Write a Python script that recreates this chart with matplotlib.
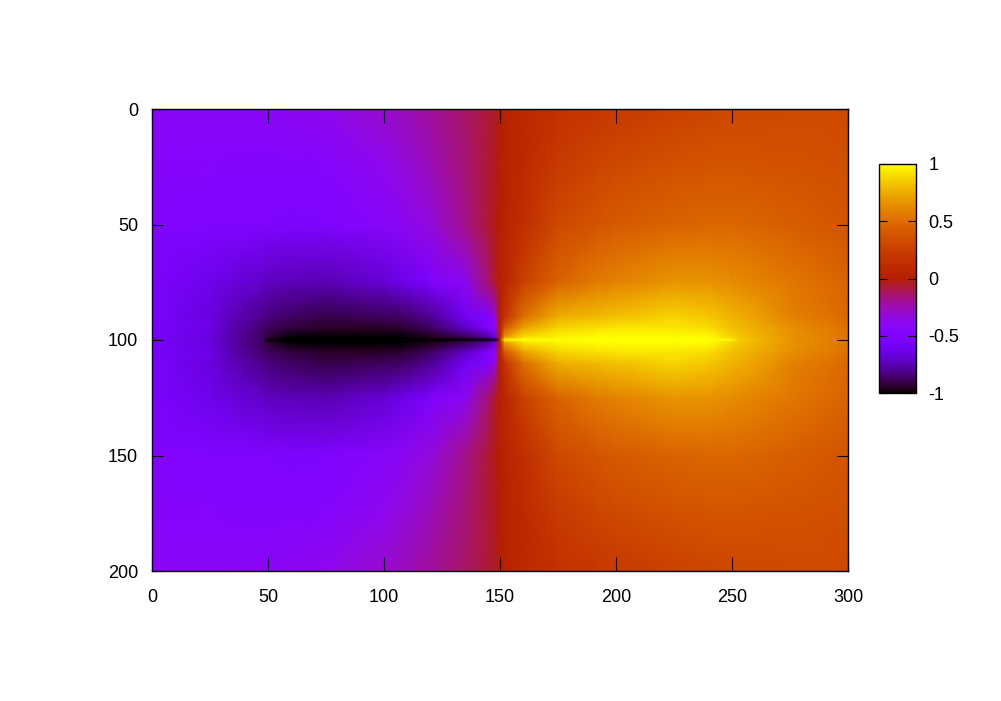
import numpy as np
import matplotlib
matplotlib.use("Agg")
from matplotlib import pyplot as plt

plt.rcParams['font.family'] = ['Liberation Sans', 'DejaVu Sans']

x_nodes = [0, 25, 48, 50, 60, 75, 100, 107, 120, 135, 145, 148, 150,
           152, 160, 175, 192, 200, 225, 240, 250, 253, 275, 300]
y_nodes = [0, 25, 50, 75, 90, 95, 99, 100, 101, 105, 110, 125, 150, 175, 200]

# one row per y node
row_000 = [-0.42, -0.42, -0.41, -0.41, -0.40, -0.38, -0.30, -0.27, -0.21, -0.13, -0.07, -0.05, 0.00,
           0.04, 0.08, 0.15, 0.20, 0.22, 0.27, 0.29, 0.30, 0.30, 0.32, 0.32]
row_025 = [-0.45, -0.46, -0.47, -0.47, -0.47, -0.46, -0.38, -0.34, -0.26, -0.15, -0.07, -0.04, 0.00,
           0.04, 0.10, 0.22, 0.29, 0.32, 0.36, 0.38, 0.38, 0.38, 0.37, 0.35]
row_050 = [-0.47, -0.50, -0.50, -0.50, -0.51, -0.50, -0.44, -0.41, -0.33, -0.18, -0.07, -0.03, 0.00,
           0.04, 0.13, 0.31, 0.38, 0.41, 0.46, 0.47, 0.47, 0.47, 0.43, 0.39]
row_075 = [-0.52, -0.62, -0.71, -0.72, -0.74, -0.75, -0.68, -0.64, -0.52, -0.40, -0.15, -0.05, 0.00,
           0.06, 0.25, 0.46, 0.57, 0.60, 0.67, 0.66, 0.64, 0.63, 0.55, 0.46]
row_090 = [-0.52, -0.66, -0.82, -0.84, -0.87, -0.90, -0.88, -0.87, -0.80, -0.60, -0.50, -0.35, 0.00,
           0.15, 0.50, 0.75, 0.80, 0.82, 0.88, 0.84, 0.78, 0.76, 0.60, 0.48]
row_095 = [-0.55, -0.64, -0.86, -0.88, -0.92, -0.95, -0.95, -0.94, -0.88, -0.72, -0.50, -0.40, 0.00,
           0.40, 0.72, 0.88, 0.92, 0.93, 0.93, 0.90, 0.82, 0.80, 0.65, 0.53]
row_099 = [-0.56, -0.66, -0.88, -0.93, -1.00, -1.00, -1.00, -1.00, -0.97, -0.90, -0.80, -0.60, 0.00,
           0.70, 0.92, 0.97, 1.00, 1.00, 1.00, 1.00, 0.88, 0.84, 0.66, 0.54]
row_100 = [-0.56, -0.66, -0.88, -1.00, -1.00, -1.00, -1.00, -1.00, -1.00, -1.00, -1.00, -1.00, 0.00,
           1.00, 1.00, 1.00, 1.00, 1.00, 1.00, 1.00, 1.00, 0.85, 0.66, 0.54]
row_101 = [-0.56, -0.66, -0.88, -0.93, -1.00, -1.00, -1.00, -1.00, -0.97, -0.90, -0.80, -0.60, 0.00,
           0.70, 0.92, 0.97, 1.00, 1.00, 1.00, 1.00, 0.88, 0.84, 0.66, 0.54]
row_105 = [-0.55, -0.64, -0.86, -0.88, -0.92, -0.95, -0.95, -0.94, -0.88, -0.72, -0.50, -0.40, 0.00,
           0.40, 0.72, 0.88, 0.92, 0.93, 0.93, 0.90, 0.82, 0.80, 0.65, 0.53]
row_110 = [-0.52, -0.66, -0.82, -0.84, -0.87, -0.90, -0.88, -0.87, -0.80, -0.60, -0.50, -0.35, 0.00,
           0.15, 0.50, 0.75, 0.80, 0.82, 0.88, 0.84, 0.78, 0.76, 0.60, 0.48]
row_125 = [-0.52, -0.62, -0.71, -0.72, -0.74, -0.75, -0.68, -0.64, -0.52, -0.40, -0.15, -0.05, 0.00,
           0.06, 0.25, 0.46, 0.57, 0.60, 0.67, 0.66, 0.64, 0.63, 0.55, 0.46]
row_150 = [-0.47, -0.50, -0.50, -0.50, -0.51, -0.50, -0.44, -0.41, -0.33, -0.18, -0.07, -0.03, 0.00,
           0.04, 0.13, 0.31, 0.38, 0.41, 0.46, 0.47, 0.47, 0.47, 0.43, 0.39]
row_175 = [-0.45, -0.46, -0.47, -0.47, -0.47, -0.46, -0.38, -0.34, -0.26, -0.15, -0.07, -0.04, 0.00,
           0.04, 0.10, 0.22, 0.29, 0.32, 0.36, 0.38, 0.38, 0.38, 0.37, 0.35]
row_200 = [-0.42, -0.42, -0.41, -0.41, -0.40, -0.38, -0.30, -0.27, -0.21, -0.13, -0.07, -0.05, 0.00,
           0.04, 0.08, 0.15, 0.20, 0.22, 0.27, 0.29, 0.30, 0.30, 0.32, 0.32]

x_ticks = [0, 50, 100, 150, 200, 250, 300]
y_ticks = [0, 50, 100, 150, 200]
cb_ticks = [-1, -0.5, 0, 0.5, 1]
cb_labels = ['-1', '-0.5', '0', '0.5', '1']

values = np.array([row_000, row_025, row_050, row_075, row_090, row_095, row_099, row_100,
                   row_101, row_105, row_110, row_125, row_150, row_175, row_200])

fig = plt.figure(figsize=(10.01, 7.01), dpi=100)
ax = fig.add_axes([152 / 1001, 1 - 571 / 701, 696 / 1001, 462 / 701])
cax = fig.add_axes([879 / 1001, 1 - 393 / 701, 37 / 1001, 229 / 701])

X, Y = np.meshgrid(x_nodes, y_nodes)
mesh = ax.pcolormesh(X, Y, values, shading='gouraud', cmap='gnuplot', vmin=-1, vmax=1)

ax.set_xlim(0, 300)
ax.set_ylim(200, 0)
ax.set_xticks(x_ticks)
ax.set_yticks(y_ticks)
ax.tick_params(axis='x', direction='in', length=10, width=0.8, top=True, bottom=True,
               labelsize=13, pad=13)
ax.tick_params(axis='y', direction='in', length=8, width=0.8, left=True, right=True,
               labelsize=13, pad=10)
for s in ax.spines.values():
    s.set_linewidth(1.0)

cb = fig.colorbar(mesh, cax=cax)
cb.set_ticks(cb_ticks)
cb.set_ticklabels(cb_labels)
cax.tick_params(direction='in', length=6, width=0.8, left=True, right=True,
                labelsize=13, pad=9)
cb.outline.set_linewidth(1.0)

fig.savefig('out.png', dpi=100)
